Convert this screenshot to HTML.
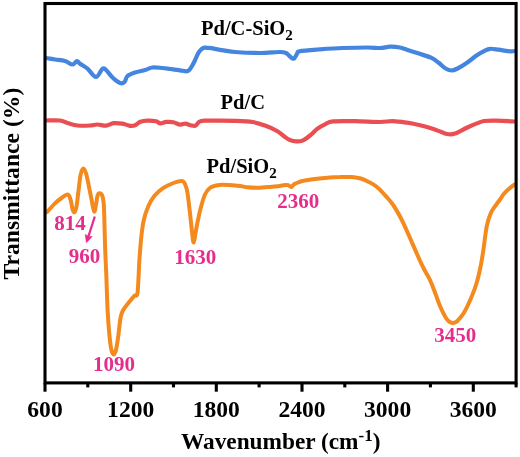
<!DOCTYPE html>
<html><head><meta charset="utf-8"><title>FTIR spectra</title>
<style>
html,body{margin:0;padding:0;background:#fff;}
svg{display:block;}
text{font-family:"Liberation Serif","DejaVu Serif",serif;font-weight:bold;}
.tk text{font-size:23.6px;text-anchor:middle;fill:#000;}
.lab text{font-size:20.5px;fill:#000;}
.pk text{font-size:21px;fill:#e52e8b;}
</style></head><body>
<svg width="520" height="457" viewBox="0 0 520 457">
<rect width="520" height="457" fill="#fff"/>
<g fill="none" stroke-linecap="round" stroke-linejoin="round">
<path d="M46.0 58.0 C47.5 58.2 51.8 59.0 55.0 59.5 C58.2 60.0 62.1 60.2 65.0 61.0 C67.9 61.8 70.5 64.5 72.5 64.5 C74.5 64.5 75.8 61.1 77.0 61.0 C78.2 60.9 78.2 62.4 80.0 63.7 C81.8 65.0 84.8 66.5 87.5 68.7 C90.2 70.9 93.5 77.0 96.0 77.0 C98.5 77.0 100.8 69.9 102.5 68.7 C104.2 67.5 104.3 68.5 106.0 70.0 C107.7 71.5 110.2 75.3 112.5 77.5 C114.8 79.7 118.0 82.2 120.0 83.0 C122.0 83.8 123.2 83.2 124.5 82.0 C125.8 80.8 125.8 77.6 127.5 76.0 C129.2 74.4 132.1 73.5 135.0 72.5 C137.9 71.5 142.1 70.8 145.0 70.0 C147.9 69.2 149.6 67.8 152.5 67.5 C155.4 67.2 159.6 67.8 162.5 68.0 C165.4 68.2 168.2 68.8 170.0 69.0 C171.8 69.2 171.3 69.1 173.0 69.3 C174.7 69.5 177.8 70.0 180.0 70.3 C182.2 70.6 184.8 71.3 186.3 71.3 C187.8 71.3 188.1 71.2 189.0 70.3 C189.9 69.4 191.0 67.6 192.0 66.0 C193.0 64.4 193.9 62.6 194.9 60.5 C195.9 58.4 197.2 55.0 198.2 53.2 C199.2 51.4 199.9 50.6 200.9 49.7 C201.9 48.8 202.7 47.9 204.4 47.6 C206.1 47.4 208.7 47.8 211.3 48.2 C213.9 48.6 216.1 49.2 220.0 49.8 C223.9 50.4 228.3 51.5 235.0 52.0 C241.7 52.5 252.5 53.0 260.0 53.0 C267.5 53.0 275.7 52.0 280.0 52.0 C284.3 52.0 284.3 52.2 286.0 53.0 C287.7 53.8 288.7 55.5 290.0 56.5 C291.3 57.5 292.5 59.1 293.7 58.7 C294.9 58.3 296.0 55.2 297.0 54.0 C298.0 52.8 296.1 52.0 299.5 51.2 C302.9 50.5 310.3 50.0 317.5 49.5 C324.7 49.0 334.2 48.3 342.5 48.0 C350.8 47.7 361.2 47.5 367.5 47.5 C373.8 47.5 376.2 48.1 380.0 48.0 C383.8 47.9 386.7 46.8 390.0 46.7 C393.3 46.6 397.2 47.0 400.0 47.5 C402.8 48.0 403.8 48.7 407.0 49.7 C410.2 50.7 415.0 52.3 419.0 53.6 C423.0 54.9 427.8 56.2 431.0 57.7 C434.2 59.2 436.0 60.7 438.4 62.5 C440.8 64.3 443.4 67.2 445.6 68.5 C447.8 69.8 449.6 70.5 451.6 70.5 C453.6 70.5 455.0 69.8 457.6 68.5 C460.2 67.2 464.1 64.7 467.3 62.5 C470.5 60.3 474.1 57.2 476.9 55.3 C479.7 53.4 481.8 52.3 484.0 51.2 C486.2 50.1 487.6 49.0 490.0 48.8 C492.4 48.5 495.6 49.3 498.6 49.7 C501.6 50.1 505.4 51.0 508.0 51.2 C510.6 51.5 513.4 51.2 514.5 51.2" stroke="#4486df" stroke-width="4.2"/>
<path d="M46.0 120.5 C48.3 120.5 56.4 120.1 60.0 120.5 C63.6 120.9 64.6 122.2 67.5 123.0 C70.4 123.8 73.8 125.1 77.5 125.5 C81.2 125.9 86.7 125.7 90.0 125.5 C93.3 125.3 94.8 124.5 97.5 124.5 C100.2 124.5 103.3 125.9 106.0 125.7 C108.7 125.5 111.0 123.5 113.7 123.2 C116.5 122.9 119.8 123.3 122.5 123.7 C125.2 124.1 127.9 125.5 130.0 125.8 C132.1 126.0 133.5 125.9 135.2 125.2 C136.9 124.5 138.4 122.6 140.4 121.8 C142.4 121.0 144.7 120.7 147.3 120.6 C149.9 120.5 153.8 120.8 156.0 121.3 C158.2 121.8 158.6 123.3 160.3 123.4 C162.0 123.5 164.1 122.1 166.3 121.9 C168.5 121.7 171.0 121.8 173.3 122.3 C175.6 122.8 178.2 124.4 180.2 124.6 C182.2 124.8 183.7 123.5 185.4 123.6 C187.1 123.7 188.9 124.9 190.6 125.2 C192.3 125.5 194.3 126.2 195.7 125.6 C197.1 125.0 197.8 122.6 199.2 121.8 C200.6 121.0 200.9 120.9 204.4 120.7 C207.9 120.5 214.9 120.6 220.0 120.6 C225.1 120.6 229.6 120.6 235.0 120.8 C240.4 121.0 247.5 121.2 252.5 122.0 C257.5 122.8 260.8 124.0 265.0 125.5 C269.2 127.0 274.2 129.3 277.5 131.2 C280.8 133.1 282.9 135.5 285.0 137.0 C287.1 138.5 288.2 139.3 290.0 140.0 C291.8 140.7 293.9 141.3 296.0 141.4 C298.1 141.5 300.2 141.6 302.5 140.6 C304.8 139.6 307.5 137.5 310.0 135.5 C312.5 133.5 315.0 130.5 317.5 128.6 C320.0 126.7 322.4 125.5 325.0 124.3 C327.6 123.1 328.0 121.9 333.0 121.4 C338.0 120.9 347.2 121.1 355.0 121.2 C362.8 121.3 373.8 122.0 380.0 122.0 C386.2 122.0 388.0 121.1 392.5 121.2 C397.0 121.3 402.6 122.1 407.0 122.7 C411.4 123.3 415.0 124.1 419.0 125.0 C423.0 125.9 427.4 127.2 431.0 128.3 C434.6 129.4 438.3 130.9 440.8 131.8 C443.3 132.7 444.4 133.4 446.0 133.8 C447.6 134.2 449.1 134.4 450.6 134.4 C452.1 134.4 453.6 134.0 455.0 133.6 C456.4 133.2 456.9 132.8 459.0 131.8 C461.1 130.8 464.3 128.9 467.3 127.5 C470.3 126.1 474.1 124.5 476.9 123.4 C479.7 122.3 480.8 121.5 484.0 121.0 C487.2 120.5 490.9 120.5 496.0 120.6 C501.1 120.7 511.4 121.3 514.5 121.5" stroke="#e94e52" stroke-width="4.2"/>
<path d="M46.0 212.0 C46.2 211.9 45.9 213.0 47.4 211.6 C48.9 210.2 52.5 205.7 54.9 203.4 C57.3 201.1 59.5 199.5 61.6 198.0 C63.7 196.5 66.2 194.4 67.7 194.6 C69.2 194.8 69.7 196.9 70.5 199.3 C71.3 201.7 71.8 206.7 72.5 208.8 C73.2 211.0 73.8 212.6 74.5 212.2 C75.2 211.8 75.9 209.8 76.6 206.1 C77.3 202.4 77.9 195.1 78.6 189.9 C79.3 184.7 79.8 178.5 80.6 174.9 C81.4 171.3 82.4 168.6 83.3 168.4 C84.2 168.2 85.2 170.7 86.1 173.6 C87.0 176.5 87.9 181.5 88.8 185.8 C89.7 190.1 90.6 195.0 91.5 199.3 C92.4 203.6 93.4 210.9 94.2 211.6 C95.0 212.3 95.6 206.1 96.2 203.4 C96.8 200.7 97.0 197.0 97.6 195.3 C98.2 193.6 98.8 193.2 99.6 193.2 C100.3 193.2 101.4 193.6 102.1 195.3 C102.8 197.0 103.3 199.0 103.7 203.4 C104.1 207.8 104.2 214.2 104.4 222.0 C104.7 229.8 104.9 241.2 105.2 250.0 C105.5 258.8 105.9 265.0 106.3 275.0 C106.7 285.0 107.1 300.0 107.6 310.0 C108.1 320.0 108.8 328.7 109.4 335.0 C110.0 341.3 110.5 345.0 111.0 348.0 C111.5 351.0 112.0 351.9 112.4 353.0 C112.9 354.1 113.3 354.6 113.7 354.6 C114.1 354.6 114.5 354.1 115.0 353.0 C115.5 351.9 115.8 351.0 116.4 348.0 C117.0 345.0 117.7 340.2 118.4 335.0 C119.1 329.8 119.9 320.8 120.8 316.5 C121.7 312.2 122.2 311.9 123.7 309.3 C125.2 306.7 128.2 303.3 130.0 301.0 C131.8 298.7 133.6 296.6 134.8 295.5 C136.0 294.4 136.7 296.9 137.3 294.3 C137.9 291.7 138.1 285.7 138.4 280.0 C138.8 274.3 138.9 267.0 139.4 260.0 C139.9 253.0 140.5 244.6 141.2 238.0 C141.9 231.4 142.5 225.8 143.7 220.5 C144.9 215.2 146.4 210.6 148.2 206.5 C150.0 202.4 151.8 199.1 154.3 196.0 C156.8 192.9 159.8 190.4 163.0 188.2 C166.2 186.0 170.3 184.2 173.5 183.0 C176.7 181.8 180.1 180.8 182.0 181.0 C183.9 181.2 184.3 182.5 185.2 184.5 C186.1 186.5 186.7 188.1 187.5 193.0 C188.3 197.9 189.2 206.7 190.1 214.0 C190.9 221.3 192.0 232.2 192.6 237.0 C193.2 241.8 193.3 242.6 193.7 242.5 C194.1 242.4 194.5 239.1 195.0 236.5 C195.5 233.9 195.7 231.7 196.6 227.0 C197.5 222.3 199.2 213.9 200.6 208.5 C202.0 203.1 203.4 198.0 205.0 194.5 C206.6 191.0 208.0 189.2 210.3 187.6 C212.6 186.0 215.8 185.3 219.0 184.9 C222.2 184.5 226.0 184.8 229.5 185.0 C233.0 185.2 237.0 185.6 240.0 186.0 C243.0 186.4 244.5 187.0 247.5 187.3 C250.5 187.6 254.2 187.9 258.0 187.8 C261.8 187.8 266.7 187.3 270.0 187.0 C273.3 186.7 275.5 186.5 278.0 186.2 C280.5 185.9 283.3 185.2 285.0 185.0 C286.7 184.8 287.3 184.9 288.3 185.2 C289.3 185.5 290.2 187.2 291.2 187.0 C292.1 186.8 292.9 185.1 294.0 184.3 C295.1 183.6 296.4 183.1 298.0 182.5 C299.6 181.9 301.0 181.2 303.5 180.7 C306.0 180.1 309.4 179.7 313.0 179.2 C316.6 178.7 320.5 178.2 325.0 177.9 C329.5 177.6 335.5 177.2 340.0 177.1 C344.5 176.9 348.7 176.8 352.0 177.0 C355.3 177.2 357.8 177.8 360.0 178.3 C362.2 178.9 363.3 179.4 365.4 180.3 C367.5 181.2 370.3 182.5 372.5 183.9 C374.7 185.3 376.3 186.2 378.8 188.6 C381.3 190.9 385.2 195.5 387.5 198.0 C389.8 200.5 390.6 201.4 392.3 203.7 C394.0 206.0 395.7 208.9 397.5 212.0 C399.3 215.1 400.7 217.5 403.0 222.3 C405.3 227.1 408.5 234.7 411.2 240.8 C413.9 246.9 417.0 254.1 419.2 259.0 C421.4 263.9 422.7 266.5 424.5 270.0 C426.3 273.5 428.2 276.2 430.0 280.0 C431.8 283.8 433.3 288.2 435.0 292.5 C436.7 296.8 438.1 301.7 440.0 306.0 C441.9 310.3 444.6 315.8 446.3 318.5 C448.0 321.2 448.9 321.3 450.0 322.0 C451.1 322.7 452.0 322.9 452.9 322.9 C453.8 322.9 454.7 322.6 455.5 322.2 C456.3 321.8 456.3 322.2 457.7 320.7 C459.1 319.2 461.8 316.3 463.8 313.0 C465.8 309.7 467.9 305.5 469.9 300.8 C471.9 296.1 474.2 290.6 476.0 285.0 C477.8 279.4 479.2 273.3 480.4 267.5 C481.6 261.7 482.3 256.9 483.4 250.0 C484.4 243.1 485.5 232.5 486.7 226.3 C487.9 220.2 489.4 216.4 490.8 213.1 C492.2 209.8 493.5 208.6 495.0 206.3 C496.5 204.0 498.6 201.5 500.0 199.5 C501.4 197.5 502.3 195.8 503.7 194.1 C505.1 192.4 506.7 190.9 508.5 189.3 C510.3 187.7 513.5 185.3 514.5 184.5" stroke="#f48a1e" stroke-width="4"/>
</g>
<g stroke="#000" stroke-width="3.1" fill="none">
<rect x="45.0" y="3.5" width="471.1" height="379.4"/>
<line x1="45.0" y1="382.9" x2="45.0" y2="391.7"/><line x1="130.7" y1="382.9" x2="130.7" y2="391.7"/><line x1="216.3" y1="382.9" x2="216.3" y2="391.7"/><line x1="302.0" y1="382.9" x2="302.0" y2="391.7"/><line x1="387.6" y1="382.9" x2="387.6" y2="391.7"/><line x1="473.3" y1="382.9" x2="473.3" y2="391.7"/><line x1="87.8" y1="382.9" x2="87.8" y2="387.4"/><line x1="173.5" y1="382.9" x2="173.5" y2="387.4"/><line x1="259.1" y1="382.9" x2="259.1" y2="387.4"/><line x1="344.8" y1="382.9" x2="344.8" y2="387.4"/><line x1="430.4" y1="382.9" x2="430.4" y2="387.4"/><line x1="516.1" y1="382.9" x2="516.1" y2="387.4"/>
</g>
<g class="tk"><text x="45.0" y="416.6">600</text><text x="130.7" y="416.6">1200</text><text x="216.3" y="416.6">1800</text><text x="302.0" y="416.6">2400</text><text x="387.6" y="416.6">3000</text><text x="473.3" y="416.6">3600</text></g>
<text x="181" y="449.2" font-size="23.3">Wavenumber (cm<tspan font-size="17" dy="-8.2">-1</tspan><tspan dy="8.2">)</tspan></text>
<text transform="translate(18.5,183.6) rotate(-90)" font-size="23.65" text-anchor="middle">Transmittance (%)</text>
<g class="lab">
<text x="201" y="34.8">Pd/C-SiO<tspan font-size="15" dy="5">2</tspan></text>
<text x="220.6" y="109" font-size="21.3">Pd/C</text>
<text x="206.6" y="172.8" font-size="20.5">Pd/SiO<tspan font-size="15" dy="5">2</tspan></text>
</g>
<g class="pk">
<text x="54.3" y="229.7">814</text>
<text x="68.7" y="263.3">960</text>
<text x="92.9" y="371">1090</text>
<text x="174.3" y="263.6">1630</text>
<text x="277.3" y="208.4">2360</text>
<text x="434.2" y="342.4">3450</text>
</g>
<g stroke="#e52e8b" fill="#e52e8b">
<line x1="94.8" y1="216.5" x2="88.4" y2="236.5" stroke-width="2.3"/>
<path d="M86.4 242.8 L85.2 234.4 L88.9 236.6 L92.2 236.6 Z" stroke-width="0.6" stroke-linejoin="round"/>
</g>
</svg>
</body></html>
